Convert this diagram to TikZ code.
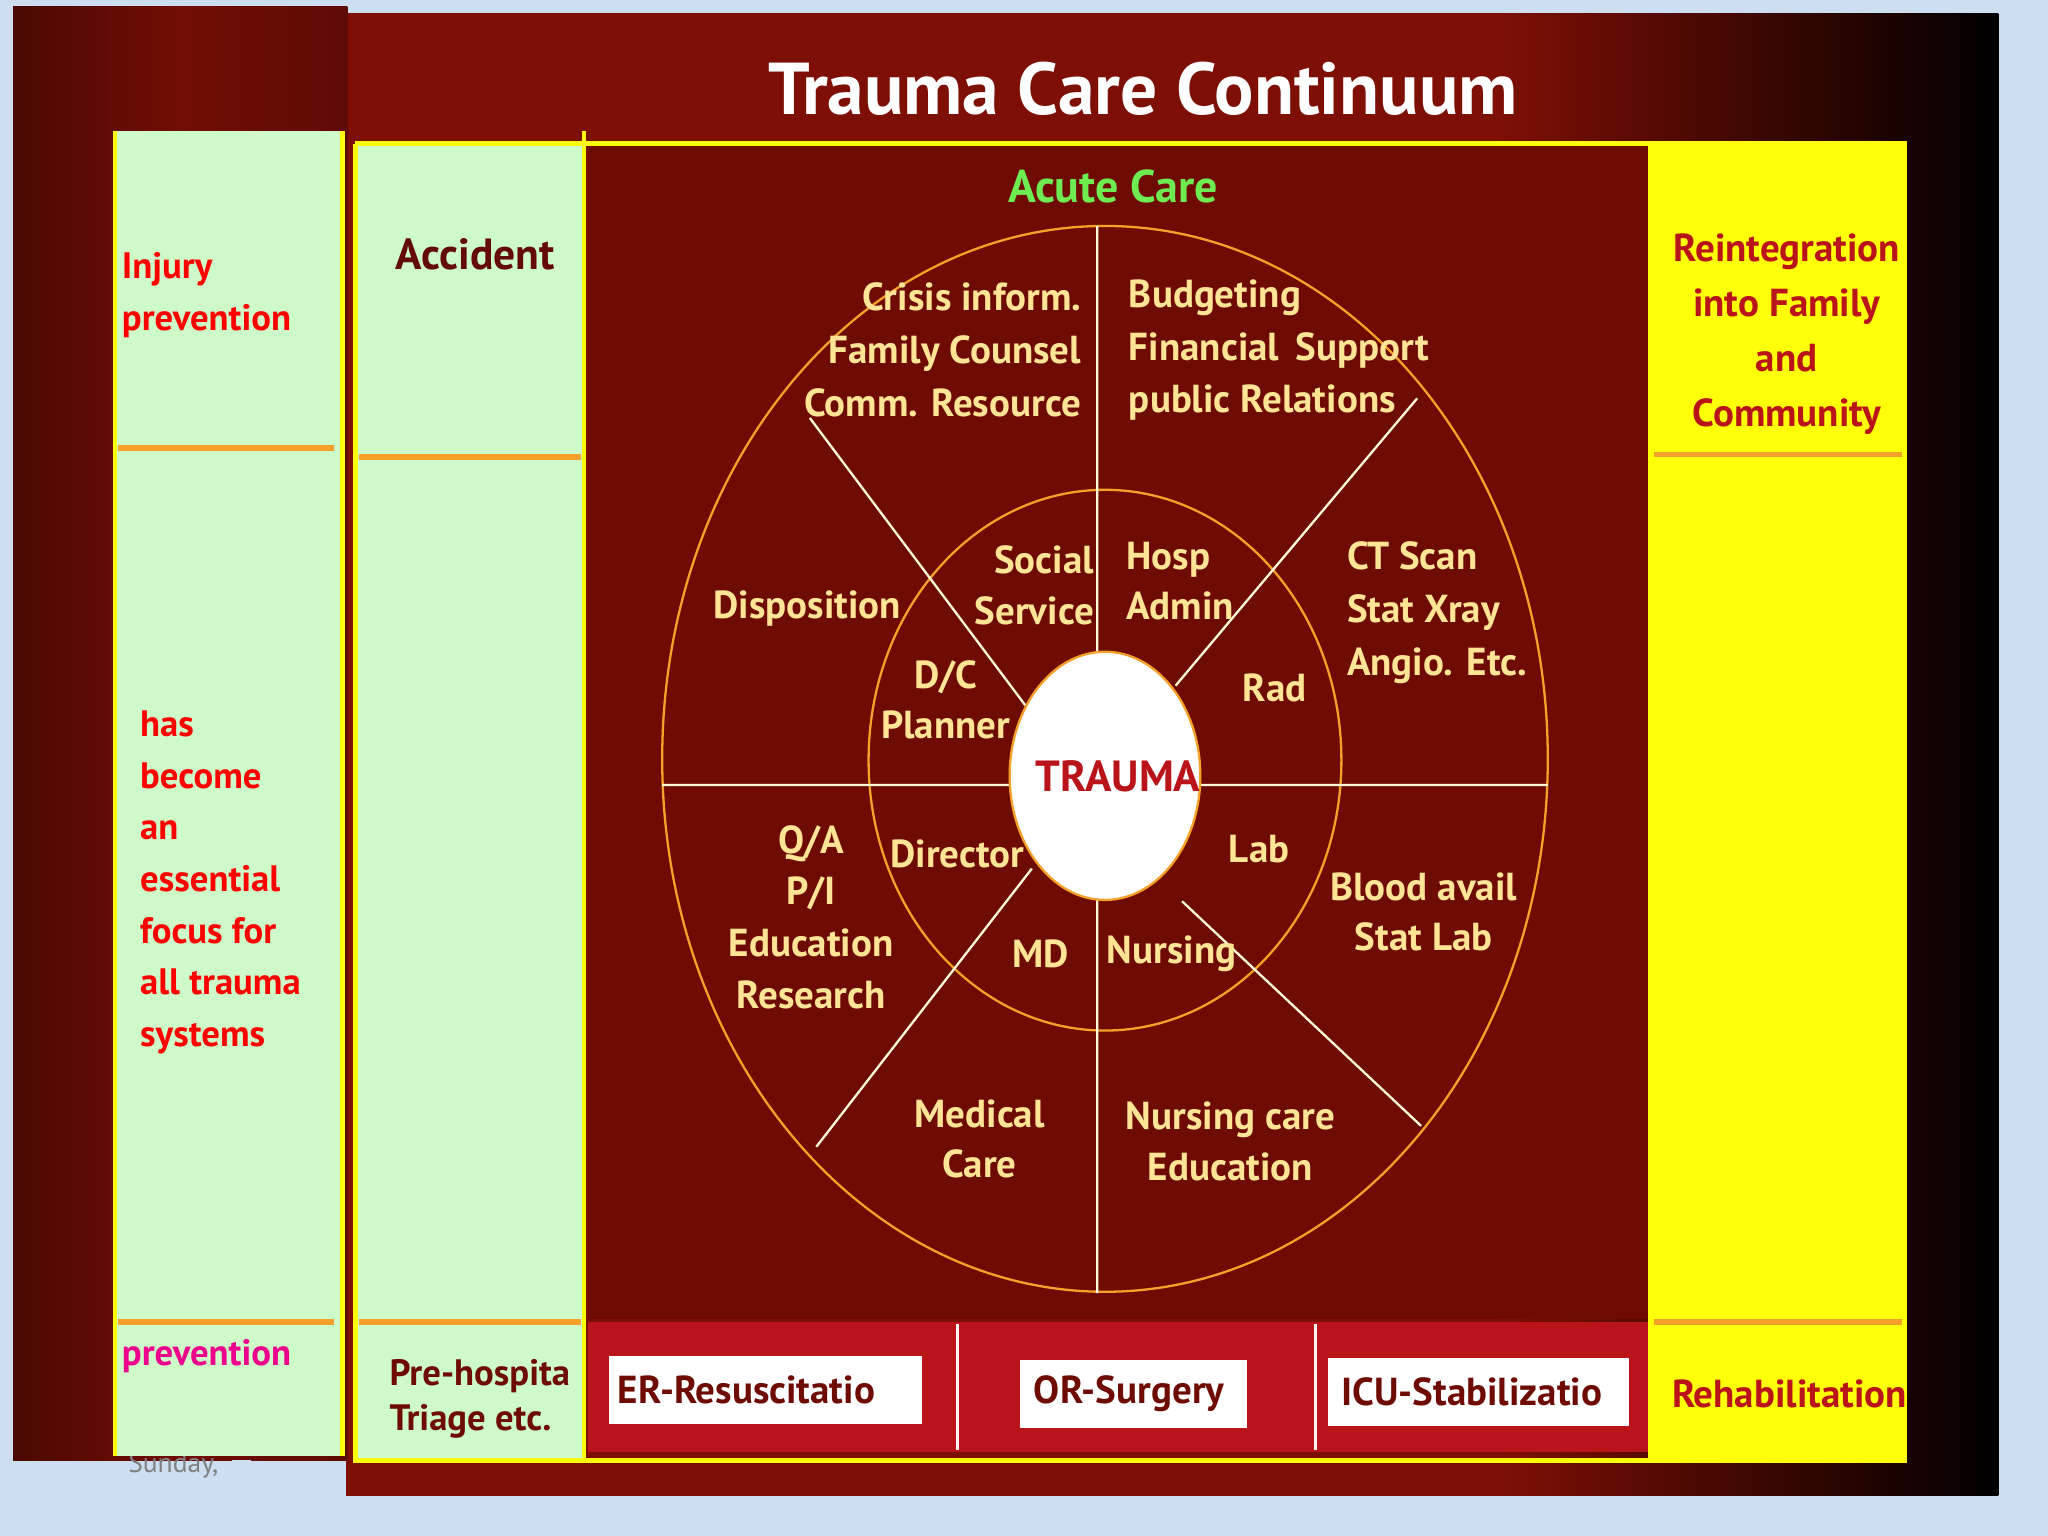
\documentclass[tikz,border=0pt]{standalone}
\usepackage{fontspec}
\setmainfont{PT Sans}
\begin{document}
\begin{tikzpicture}[x=0.02cm,y=-0.02cm,
 lbl/.style={text=labc,font=\bfseries\fontsize{17}{20}\selectfont,align=center,inner sep=0pt},
 lft/.style={text=red,font=\bfseries\fontsize{16}{22.5}\selectfont,align=left,anchor=north west,inner sep=0pt},
 wbox/.style={fill=white,text=dred,font=\bfseries\fontsize{17}{20}\selectfont,inner sep=0pt}]
\definecolor{bgb}{RGB}{205,222,240}
\definecolor{dred}{RGB}{110,12,4}
\definecolor{mred}{RGB}{125,15,5}
\definecolor{lgr}{RGB}{205,250,200}
\definecolor{yel}{RGB}{255,255,10}
\definecolor{ora}{RGB}{245,160,40}
\definecolor{labc}{RGB}{255,228,150}
\definecolor{crim}{RGB}{185,20,25}
\definecolor{grn}{RGB}{110,235,80}
\useasboundingbox (0,0) rectangle (1568,1176);
\fill[bgb] (0,0) rectangle (1568,1176);
\fill[mred] (265,10) rectangle (1150,1145);
\shade[left color=mred,right color=black] (1149,10) rectangle (1530,1145);
\shade[left color=mred!60!black,right color=mred!90!black] (10,5) rectangle (138,1118);
\shade[left color=mred!90!black,right color=mred!75!black] (137,5) rectangle (266,1118);
\node[text=gray,font=\fontsize{12}{14}\selectfont,anchor=west] (sun) at (92,1122) {Sunday,};
\fill[bgb] (178,1118) rectangle (192,1176);
\node[text=white,font=\bfseries\fontsize{32}{36}\selectfont] (title) at (875,68) {Trauma Care Continuum};
% columns
\fill[lgr] (88,100) rectangle (262,1115);
\draw[yel,line width=2pt] (88,100) -- (88,1115) (262,100) -- (262,1115);
\draw[ora,line width=2.5pt] (90,343) -- (256,343) (90,1012) -- (256,1012);
\fill[lgr] (272,110) rectangle (447,1120);
\draw[yel,line width=2pt] (272,110) -- (272,1120) (447,100) -- (447,1120);
\draw[ora,line width=2.5pt] (275,350) -- (445,350) (275,1012) -- (445,1012);
\fill[yel] (1262,108) rectangle (1460,1120);
\draw[ora,line width=2.5pt] (1266,348) -- (1456,348) (1266,1012) -- (1456,1012);
\fill[dred] (450,112) rectangle (1262,1010);
\draw[yel,line width=2pt] (272,110) -- (1460,110) (272,1118) -- (1460,1118);
% bottom strip
\fill[crim] (450,1012) rectangle (1262,1112);
\draw[white!80!pink,line width=1.5pt] (733,1014) -- (733,1110) (1007,1014) -- (1007,1110);
\node[wbox,text width=240*0.02cm,align=left,minimum height=52*0.02cm] (er) at (586,1064) {\hspace{4pt}ER-Resuscitatio};
\node[wbox,text width=174*0.02cm,align=left,minimum height=52*0.02cm] (or) at (868,1067) {\hspace{6pt}OR-Surgery};
\node[wbox,text width=231*0.02cm,align=left,minimum height=52*0.02cm] (icu) at (1132,1066) {\hspace{6pt}ICU-Stabilizatio};
% wheel
\draw[ora,line width=1pt] (846,581) ellipse [x radius=339,y radius=408];
\draw[ora,line width=1pt] (846,582) ellipse [x radius=181,y radius=207];
\draw[white!85!yellow,line width=1pt] (840,173) -- (840,990) (507,601) -- (1185,601)
 (620,320) -- (785,540) (1085,305) -- (900,525) (625,878) -- (790,665) (1088,862) -- (905,690);
\fill[white] (846,594) ellipse [x radius=73,y radius=95];
\draw[ora,line width=1pt] (846,594) ellipse [x radius=73,y radius=95];
\node[text=crim,font=\bfseries\fontsize{19}{22}\selectfont] (tr) at (856,594) {TRAUMA};
\node[text=grn,font=\bfseries\fontsize{20}{24}\selectfont] (ac) at (852,143) {Acute Care};
\node[lbl,align=right,anchor=east,font=\bfseries\fontsize{17}{23}\selectfont] (a1) at (828,268) {Crisis inform.\\Family Counsel\\Comm. Resource};
\node[lbl,align=left,anchor=west,font=\bfseries\fontsize{17}{23}\selectfont] (a2) at (864,268) {Budgeting\\Financial\, Support\\public Relations};
\node[lbl] (disp) at (618,466) {Disposition};
\node[lbl,align=right,font=\bfseries\fontsize{17}{22}\selectfont] (soc) at (792,448) {Social\\Service};
\node[lbl,align=left,font=\bfseries\fontsize{17}{22}\selectfont,anchor=west] (hosp) at (862,445) {Hosp\\Admin};
\node[lbl,align=left,font=\bfseries\fontsize{17}{23}\selectfont,anchor=west] (ct) at (1031,469) {CT Scan\\Stat Xray\\Angio. Etc.};
\node[lbl,align=center,font=\bfseries\fontsize{17}{22}\selectfont] (dc) at (724,536) {D/C\\Planner};
\node[lbl] (rad) at (976,527) {Rad};
\node[lbl,font=\bfseries\fontsize{17}{22.5}\selectfont] (qa) at (621,702) {Q/A\\P/I\\Education\\Research};
\node[lbl] (dir) at (733,654) {Director};
\node[lbl] (lab) at (964,650) {Lab};
\node[lbl,font=\bfseries\fontsize{17}{22}\selectfont] (blood) at (1090,698) {Blood avail\\Stat Lab};
\node[lbl] (md) at (797,730) {MD};
\node[lbl] (nur) at (897,730) {Nursing};
\node[lbl,font=\bfseries\fontsize{17}{22}\selectfont] (med) at (750,872) {Medical\\Care};
\node[lbl,font=\bfseries\fontsize{17}{22}\selectfont] (nc) at (942,874) {Nursing care\\Education};
% column texts
\node[text=dred!90!black,font=\bfseries\fontsize{19}{22}\selectfont] (acc) at (364,195) {Accident};
\node[text=dred,font=\bfseries\fontsize{16}{20}\selectfont,align=left,anchor=west] (pre) at (292,1071) {Pre-hospita\\Triage etc.};
\begin{scope}
\clip (1262,100) rectangle (1466,1120);
\node[text=crim,font=\bfseries\fontsize{17}{24}\selectfont,align=center] (rein) at (1368,256) {Reintegration\\into Family\\and\\Community};
\node[text=crim,font=\bfseries\fontsize{17}{20}\selectfont,anchor=west] (reh) at (1274,1067) {Rehabilitation};
\end{scope}
\node[lft] (inj) at (93,193) {Injury\\prevention};
\node[lft] (has) at (107,544) {has\\become\\an\\essential\\focus for\\all trauma\\systems};
\node[text=magenta,font=\bfseries\fontsize{16}{20}\selectfont,anchor=west,inner sep=0pt] (prev) at (93,1038) {prevention};
\end{tikzpicture}
\end{document}
